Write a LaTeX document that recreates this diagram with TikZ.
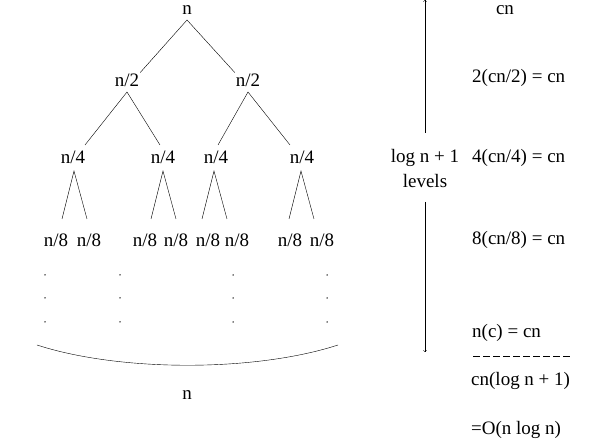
\documentclass[tikz,border=0pt]{standalone}
\usepackage{fontspec}
\setmainfont{Liberation Serif}
\begin{document}
\begin{tikzpicture}[x=1pt,y=-1pt,every node/.style={font=\fontsize{19}{22}\selectfont,inner sep=1pt},
  lbl/.style={anchor=west},dotn/.style={circle,fill,inner sep=0pt,minimum size=1.5pt}]
\useasboundingbox (0,0) rectangle (600,443);
\node (r) at (187,10) {n};
\node (a) at (127,80) {n/2};
\node (b) at (248,80) {n/2};
\node (a1) at (73,157) {n/4};
\node (a2) at (163,157) {n/4};
\node (b1) at (216,157) {n/4};
\node (b2) at (302,157) {n/4};
\foreach \x [count=\i] in {56,89,145,176,208,237,290,322} \node (l\i) at (\x,240) {n/8};
\coordinate (rt) at (187,20);
\draw (rt) -- (a.north east);
\draw (rt) -- (b.north west);
\coordinate (at) at (127,92); \coordinate (bt) at (248,92);
\draw (at) -- (85,145) coordinate (a1n);
\draw (at) -- (160,145) coordinate (a2n);
\draw (bt) -- (218,145) coordinate (b1n);
\draw (bt) -- (290,145) coordinate (b2n);
\foreach \p/\x in {a1/74,a2/163,b1/214,b2/301}{
  \coordinate (\p t) at (\x,171);
  \coordinate (\p l) at (\x-12,219);
  \coordinate (\p r) at (\x+13,219);
  \draw (\p l) -- (\p t) -- (\p r);}
\foreach \x [count=\i] in {45,120,233,327} \foreach \y [count=\j] in {275,298,322} \node[dotn] (d\i\j) at (\x,\y) {};
\coordinate (cl) at (37,345); \coordinate (cr) at (338,345);
\draw (cl) .. controls (120,372) and (255,372) .. (cr);
\node (bn) at (187,395) {n};
\node (lg) at (425,158) {log n + 1};
\node (lv) at (425,181) {levels};
\coordinate (top) at (425,0); \coordinate (bot) at (425,352);
\draw[->] (425,133) -- (top);
\draw[->] (425,202) -- (bot);
\node (c0) at (505,10) {cn};
\node[lbl] (c1) at (471,78) {2(cn/2) = cn};
\node[lbl] (c2) at (471,158) {4(cn/4) = cn};
\node[lbl] (c3) at (471,240) {8(cn/8) = cn};
\node[lbl] (c4) at (471,333) {n(c) = cn};
\coordinate (ds) at (473,356); \coordinate (de) at (573,356);
\draw[dash pattern=on 7pt off 3pt] (ds) -- (de);
\node[lbl] (c5) at (470,381) {cn(log n + 1)};
\node[lbl] (c6) at (470,430) {=O(n log n)};
\end{tikzpicture}
\end{document}
